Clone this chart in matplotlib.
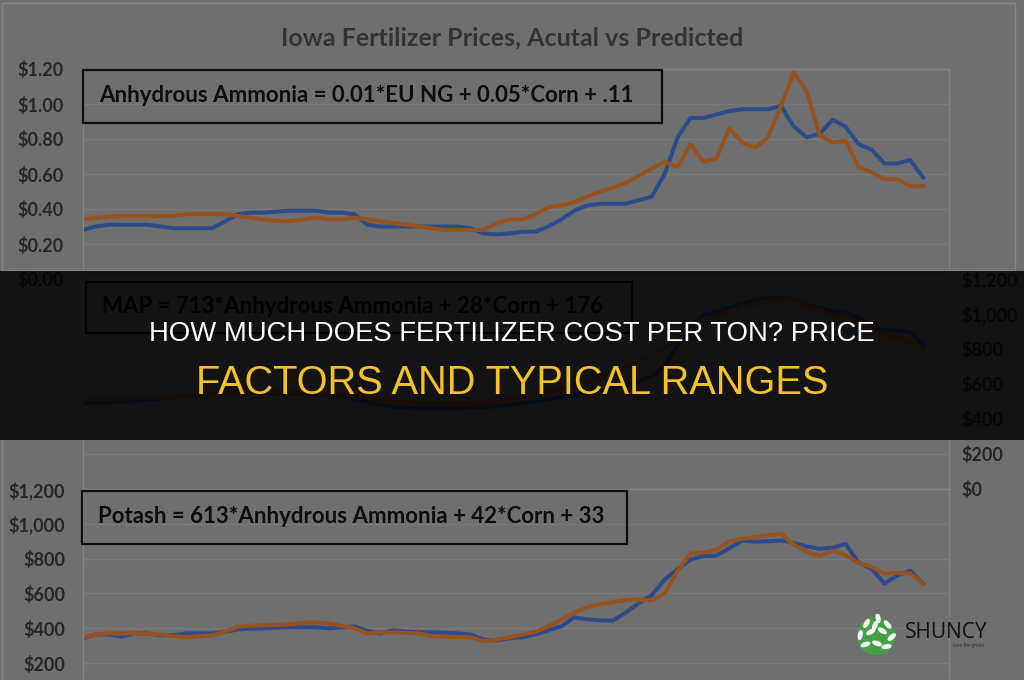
import matplotlib.pyplot as plt
import numpy as np
from matplotlib.patches import Rectangle, Circle, Ellipse
from matplotlib.ticker import FuncFormatter

plt.rcParams['font.family'] = ['Lato', 'DejaVu Sans']
plt.rcParams['font.weight'] = 'bold'

W, H = 1024, 680

# monthly observations, actual (blue) vs predicted (orange)
months = np.arange(66)

ammonia_actual = [0.28, 0.30, 0.31, 0.31, 0.31, 0.31, 0.30, 0.29, 0.29, 0.29, 0.29,
                  0.33, 0.37, 0.38, 0.38, 0.385, 0.39, 0.39, 0.39, 0.38, 0.38, 0.37,
                  0.31, 0.30, 0.30, 0.30, 0.30, 0.30, 0.30, 0.30, 0.29, 0.26, 0.255,
                  0.26, 0.27, 0.27, 0.30, 0.34, 0.39, 0.42, 0.43, 0.43, 0.43, 0.45,
                  0.47, 0.60, 0.81, 0.92, 0.92, 0.94, 0.96, 0.97, 0.97, 0.97, 0.99,
                  0.87, 0.81, 0.83, 0.91, 0.87, 0.77, 0.74, 0.66, 0.66, 0.68, 0.58]
ammonia_pred = [0.34, 0.35, 0.355, 0.36, 0.36, 0.36, 0.36, 0.36, 0.37, 0.37, 0.37,
                0.37, 0.36, 0.35, 0.34, 0.33, 0.33, 0.34, 0.35, 0.34, 0.34, 0.35,
                0.34, 0.33, 0.32, 0.31, 0.30, 0.29, 0.28, 0.28, 0.28, 0.28, 0.32,
                0.34, 0.34, 0.37, 0.41, 0.42, 0.44, 0.47, 0.50, 0.52, 0.55, 0.59,
                0.63, 0.67, 0.64, 0.77, 0.67, 0.69, 0.86, 0.78, 0.75, 0.81, 0.99,
                1.18, 1.07, 0.82, 0.78, 0.79, 0.64, 0.61, 0.57, 0.57, 0.53, 0.53]

map_actual = [490, 492, 495, 498, 502, 508, 515, 522, 530, 535, 540,
              545, 548, 548, 546, 544, 542, 540, 538, 535, 528, 515,
              495, 478, 468, 462, 460, 458, 458, 460, 462, 465,
              470, 478, 488, 498, 510, 522, 535, 548, 560, 575, 592, 612, 640,
              700, 810, 930, 990, 1010, 1030, 1055, 1075, 1085, 1090,
              1075, 1050, 1030, 1010, 1005, 975, 930, 905, 900, 895, 811]
map_pred = [505, 508, 510, 512, 515, 518, 522, 526, 530, 533, 536,
            540, 545, 548, 550, 552, 550, 548, 545, 540, 535, 528,
            518, 508, 500, 495, 490, 488, 486, 485, 486, 490,
            498, 508, 520, 535, 552, 570, 590, 612, 635, 660, 690, 725, 760,
            800, 850, 905, 950, 985, 1010, 1035, 1055, 1070, 1080,
            1070, 1045, 1015, 990, 975, 950, 910, 880, 860, 830, 777]

potash_actual = [343, 365, 365, 352, 371, 371, 360, 360, 371, 371, 371,
                 380, 394, 397, 400, 404, 406, 406, 406, 400, 405, 411,
                 385, 371, 389, 382, 377, 377, 374, 371, 365, 335, 331,
                 343, 349, 365, 389, 411, 463, 452, 446, 445, 490, 545,
                 590, 680, 740, 795, 815, 817, 860, 903, 897, 900, 905,
                 891, 870, 857, 863, 886, 777, 743, 657, 703, 731, 657]
potash_pred = [349, 365, 371, 371, 371, 368, 365, 355, 349, 355, 360,
               380, 410, 415, 418, 420, 423, 432, 434, 428, 415, 400,
               371, 377, 377, 374, 371, 355, 352, 350, 349, 326, 335,
               349, 365, 380, 411, 450, 490, 520, 540, 550, 562, 564,
               560, 600, 731, 829, 835, 850, 900, 915, 924, 935, 943,
               880, 840, 815, 846, 820, 775, 754, 714, 718, 715, 657]

ammonia_ticks = [0.0, 0.2, 0.4, 0.6, 0.8, 1.0, 1.2]
dollar_ticks = [0, 200, 400, 600, 800, 1000, 1200]

title = "Iowa Fertilizer Prices, Acutal vs Predicted"
eq_ammonia = "Anhydrous Ammonia = 0.01*EU NG + 0.05*Corn + .11"
eq_map = "MAP = 713*Anhydrous Ammonia + 28*Corn + 176"
eq_potash = "Potash = 613*Anhydrous Ammonia + 42*Corn + 33"
headline1 = "HOW MUCH DOES FERTILIZER COST PER TON? PRICE"
headline2 = "FACTORS AND TYPICAL RANGES"

BG = '#6f6f6f'
GRID = '#7a7a7a'
EDGE = '#828282'
LABEL = '#262626'
BLUE = '#2d4b8b'
ORANGE = '#97521f'


def frac(x0, y0, x1, y1):
    return [x0 / W, 1 - y1 / H, (x1 - x0) / W, (y1 - y0) / H]


def fx(x):
    return x / W


def fy(y):
    return 1 - y / H


fig = plt.figure(figsize=(W / 100, H / 100), dpi=100)
fig.patch.set_facecolor(BG)


def chart(rect, top, ticks, fmt, right=False, pad=14):
    ax = fig.add_axes(rect)
    ax.set_facecolor('none')
    ax.set_xlim(0, 67)
    ax.set_ylim(0, top)
    ax.set_yticks(ticks)
    ax.yaxis.set_major_formatter(FuncFormatter(fmt))
    ax.set_xticks([])
    ax.grid(axis='y', color=GRID, lw=1)
    ax.set_axisbelow(True)
    if right:
        ax.yaxis.tick_right()
    ax.tick_params(axis='y', length=0, pad=pad, labelsize=13, labelcolor=LABEL)
    for s in ax.spines.values():
        s.set_color(EDGE)
        s.set_linewidth(0.9)
    return ax


money2 = lambda v, p: f"${v:.2f}"
money0 = lambda v, p: f"${v:,.0f}"

ax1 = chart(frac(83, 69, 949, 279), 1.2, ammonia_ticks, money2, pad=14)
ax1.plot(months, ammonia_actual, color=BLUE, lw=2.9, solid_joinstyle='round')
ax1.plot(months, ammonia_pred, color=ORANGE, lw=2.9, solid_joinstyle='round')

ax2 = chart(frac(83, 278, 949, 489), 1200, dollar_ticks, money0, right=True, pad=9)
ax2.plot(months, map_actual, color=BLUE, lw=2.9)
ax2.plot(months, map_pred, color=ORANGE, lw=2.9)

ax3 = chart(frac(83, 489, 949, 698), 1200, dollar_ticks[1:], money0, pad=13)
ax3.plot(months, potash_actual, color=BLUE, lw=2.9)
ax3.plot(months, potash_pred, color=ORANGE, lw=2.9)

fig.text(0.5, fy(38), title, ha='center', va='center', fontsize=18, color='#333333')

# outer chart frame
fig.add_artist(Rectangle((fx(2), fy(270)), fx(1013), fy(3) - fy(270), transform=fig.transFigure,
                         fill=False, ec='#858585', lw=1))
fig.add_artist(plt.Line2D([fx(2), fx(2)], [fy(440), 0], transform=fig.transFigure,
                          color='#858585', lw=1))

# equation boxes
for (x0, y0, x1, y1), txt in [((83, 70, 662, 123), eq_ammonia),
                              ((86, 282, 632, 333), eq_map),
                              ((82, 491, 627, 544), eq_potash)]:
    fig.add_artist(Rectangle((fx(x0), fy(y1)), fx(x1 - x0), fy(y0) - fy(y1),
                             transform=fig.transFigure, fill=False, ec='#0d0d0d', lw=1.6, zorder=2))
    fig.text(fx(x0 + 16), fy((y0 + y1) / 2 - 1), txt, ha='left', va='center',
             fontsize=16, color='#0d0d0d', zorder=3)

# dark headline band
fig.add_artist(Rectangle((0, fy(440)), 1, fy(271) - fy(440), transform=fig.transFigure,
                         color='black', alpha=0.83, lw=0, zorder=5))
fig.text(0.5, fy(334), headline1, ha='center', va='center', fontsize=19.8,
         family='Liberation Sans', weight='normal', color='white', zorder=6)
fig.text(0.5, fy(383), headline2, ha='center', va='center', fontsize=28.6,
         family='Liberation Sans', weight='normal', color='#f3c12b', zorder=6)

# logo
lax = fig.add_axes(frac(855, 614, 897, 656))
lax.set_xlim(-1, 1)
lax.set_ylim(-1, 1)
lax.set_aspect('equal')
lax.axis('off')
lax.add_patch(Circle((0, -0.05), 0.88, color='#43a047'))
for (cx, cy, ang) in [(-0.45, 0.55, 60), (0.1, 0.8, 100), (0.55, 0.5, 130), (-0.75, 0.0, 80),
                      (-0.25, 0.15, 30), (0.3, 0.2, 150), (0.75, -0.1, 40), (-0.5, -0.45, 20),
                      (0.05, -0.4, 160), (0.5, -0.55, 10), (-0.05, 0.45, 70)]:
    lax.add_patch(Ellipse((cx, cy), 0.42, 0.17, angle=ang, color='#f4f4f4'))
fig.text(fx(905), fy(633), "SHUNCY", ha='left', va='center', fontsize=15, weight='normal',
         family='Open Sans', color='#111111')
fig.text(fx(984), fy(646), "love the green", ha='right', va='center', fontsize=3.5,
         weight='normal', color='#333333')

fig.savefig('out.png', dpi=100, facecolor=fig.get_facecolor())
